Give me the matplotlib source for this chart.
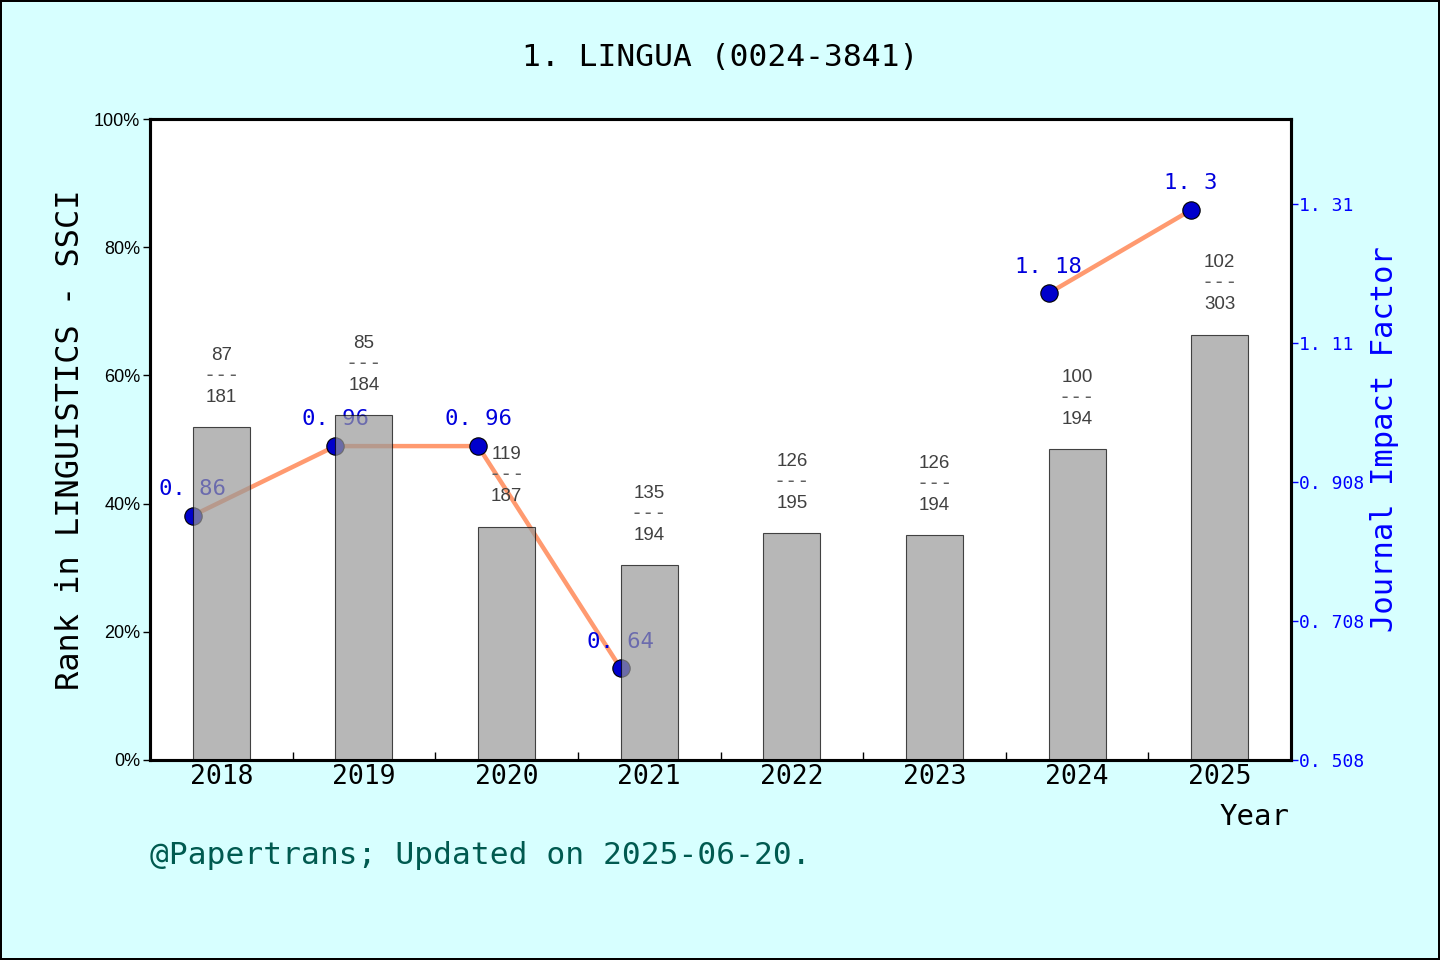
import matplotlib
matplotlib.use("Agg")
import matplotlib.pyplot as plt
import numpy as np

years = ["2018", "2019", "2020", "2021", "2022", "2023", "2024", "2025"]
ranks = [87, 85, 119, 135, 126, 126, 100, 102]
totals = [181, 184, 187, 194, 195, 194, 194, 303]
impact = [0.86, 0.96, 0.96, 0.64, np.nan, np.nan, 1.18, 1.3]
if_labels = ["0. 86", "0. 96", "0. 96", "0. 64", "", "", "1. 18", "1. 3"]
right_ticks = [0.508, 0.708, 0.908, 1.108, 1.308]
right_tick_labels = ["0. 508", "0. 708", "0. 908", "1. 11", "1. 31"]
title = "1. LINGUA (0024-3841)"
footer = "@Papertrans; Updated on 2025-06-20."

mono = "DejaVu Sans Mono"
sans = "Liberation Sans"

fig = plt.figure(figsize=(14.4, 9.6), dpi=100, facecolor="#D7FFFF",
                 edgecolor="black", linewidth=1.5)
ax = fig.add_axes([150/1440, 1-760/960, (1291-150)/1440, (760-119)/960])
ax2 = ax.twinx()

x = np.arange(len(years))
bar_w = 0.4
pct = [1 - r / t for r, t in zip(ranks, totals)]

# ax2 (IF line) drawn under ax (bars)
ax.set_zorder(2)
ax2.set_zorder(1)
ax.patch.set_visible(False)
ax2.patch.set_visible(True)
ax2.patch.set_facecolor("white")

xl = x - bar_w / 2
ax2.plot(xl, impact, color="#FF9A70", lw=3.2, zorder=2)
ax2.plot(xl, impact, 'o', color="#0000CC", markersize=12.5,
         markeredgecolor="black", markeredgewidth=0.8, zorder=3)
for xi, v, lab in zip(xl, impact, if_labels):
    if lab:
        ax2.annotate(lab, (xi, v), xytext=(0, 12), textcoords="offset points",
                     ha="center", va="bottom", color="#0000DD",
                     fontsize=16, family=mono)
ax2.set_ylim(0.508, 1.431)
ax2.set_yticks(right_ticks)
ax2.set_yticklabels(right_tick_labels, family=mono, fontsize=13, color="#0000FF")
ax2.tick_params(axis="y", colors="#0000FF", length=5, width=1, direction="out", pad=1)
ax2.set_ylabel("Journal Impact Factor", family=mono, fontsize=22, color="#0000FF",
               labelpad=4)

bars = ax.bar(x, pct, width=bar_w, color="#999999", alpha=0.7,
              edgecolor="black", linewidth=0.8, zorder=2)
for xi, p, r, t in zip(x, pct, ranks, totals):
    ax.annotate(str(t), (xi, p), xytext=(0, 21.6), textcoords="offset points",
                ha="center", va="center", color="#404040", fontsize=13.5,
                family=sans, zorder=4)
    ax.annotate("---", (xi, p), xytext=(0, 37.4),
                textcoords="offset points", ha="center", va="center",
                color="#606060", fontsize=14.5, family=mono, zorder=4)
    ax.annotate(str(r), (xi, p), xytext=(0, 51.8), textcoords="offset points",
                ha="center", va="center", color="#404040", fontsize=13.5,
                family=sans, zorder=4)

ax.set_xlim(-0.5, len(years) - 0.5)
ax.set_ylim(0, 1)
ax.set_yticks([0, 0.2, 0.4, 0.6, 0.8, 1.0])
ax.set_yticklabels(["0%", "20%", "40%", "60%", "80%", "100%"], family=sans, fontsize=13)
ax.tick_params(axis="y", length=5, width=1, direction="out", pad=2)
ax.set_xticks(x)
ax.set_xticklabels(years, family=mono, fontsize=19)
ax.tick_params(axis="x", which="major", length=0, pad=3)
ax.set_xticks(np.arange(-0.5, len(years), 1.0)[1:-1], minor=True)
ax.tick_params(axis="x", which="minor", length=6, width=1, direction="in")
ax.set_ylabel("Rank in LINGUISTICS - SSCI", family=mono, fontsize=23, labelpad=6)

for a in (ax, ax2):
    for s in a.spines.values():
        s.set_linewidth(2.2)
        s.set_color("black")

fig.text((150+1291)/2/1440, 1-57/960, title, ha="center", va="center",
         family=mono, fontsize=22.5, color="black")
fig.text(1290/1440, 1-817/960, "Year", ha="right", va="center",
         family=mono, fontsize=21, color="black")
fig.text(150/1440, 1-855/960, footer, ha="left", va="center",
         family=mono, fontsize=22.5, color="#005A50")

fig.savefig("out.png", dpi=100, facecolor=fig.get_facecolor(),
            edgecolor=fig.get_edgecolor())
